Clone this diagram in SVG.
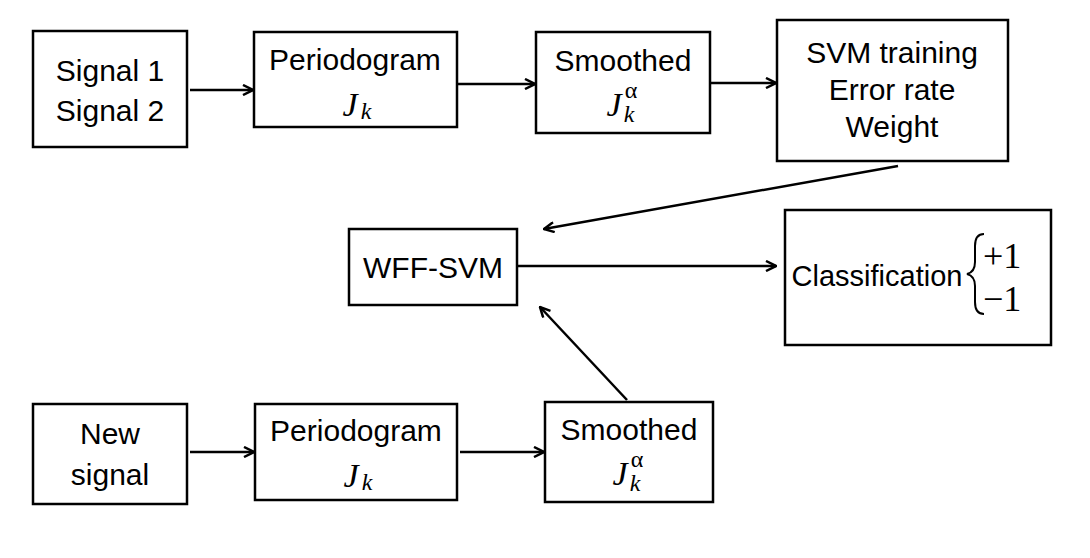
<svg xmlns="http://www.w3.org/2000/svg" width="1090" height="558" viewBox="0 0 1090 558">
<style>
rect{fill:#fff;stroke:#000;stroke-width:2.5}
text{font-family:"Liberation Sans",Arial,sans-serif;font-size:30px;text-anchor:middle;fill:#000}
.m{font-family:"Liberation Serif",serif;font-style:italic;font-size:34px}
.s{font-family:"Liberation Serif",serif;font-style:italic;font-size:24px}
.n{font-family:"Liberation Serif",serif;font-size:36px;text-anchor:start}
line{stroke:#000;stroke-width:2.5;marker-end:url(#a)}
</style>
<defs><marker id="a" markerWidth="12" markerHeight="12" refX="11" refY="6" orient="auto" markerUnits="userSpaceOnUse"><path d="M1,1 L11,6 L1,11" fill="none" stroke="#000" stroke-width="2.5"/></marker></defs>
<rect x="0" y="0" width="1090" height="558" style="stroke:none"/>
<g id="n1"><rect x="33" y="31" width="154" height="116"/><text x="110" y="81">Signal 1</text><text x="110" y="121">Signal 2</text></g>
<g id="n2"><rect x="254" y="32" width="203" height="95"/><text x="355" y="70">Periodogram</text><text class="m" x="350" y="116">J</text><text class="s" x="366" y="119">k</text></g>
<g id="n3"><rect x="536" y="32" width="174" height="101"/><text x="623" y="71">Smoothed</text><text class="m" x="614" y="116">J</text><text class="s" x="629" y="122">k</text><text class="s" x="631" y="98" style="font-style:normal">α</text></g>
<g id="n4"><rect x="777" y="20" width="231" height="141"/><text x="892" y="63">SVM training</text><text x="892" y="100">Error rate</text><text x="892" y="137">Weight</text></g>
<g id="n5"><rect x="349" y="229" width="168" height="76"/><text x="433" y="278">WFF-SVM</text></g>
<g id="n6"><rect x="785" y="210" width="266" height="135"/><text x="877" y="286" style="font-size:29px">Classification</text>
<path d="M984,234 q-9,0 -9,12 v16 q0,10 -8,12 q8,2 8,12 v16 q0,12 9,12" fill="none" stroke="#000" stroke-width="2"/>
<text class="n" x="983" y="268">+1</text><text class="n" x="983" y="311">−1</text></g>
<g id="n7"><rect x="33" y="404" width="154" height="100"/><text x="110" y="444">New</text><text x="110" y="485">signal</text></g>
<g id="n8"><rect x="255" y="404" width="202" height="96"/><text x="356" y="441">Periodogram</text><text class="m" x="351" y="487">J</text><text class="s" x="367" y="490">k</text></g>
<g id="n9"><rect x="545" y="402" width="168" height="100"/><text x="629" y="440">Smoothed</text><text class="m" x="620" y="485">J</text><text class="s" x="635" y="491">k</text><text class="s" x="637" y="467" style="font-style:normal">α</text></g>
<g id="connectors">
<line x1="190" y1="90" x2="253" y2="90"/>
<line x1="457" y1="84" x2="535" y2="84"/>
<line x1="710" y1="83" x2="776" y2="83"/>
<line x1="898" y1="166" x2="544" y2="229"/>
<line x1="517" y1="266" x2="776" y2="266"/>
<line x1="627" y1="400" x2="540" y2="307"/>
<line x1="190" y1="452" x2="254" y2="452"/>
<line x1="460" y1="452" x2="544" y2="452"/>
</g>
</svg>
